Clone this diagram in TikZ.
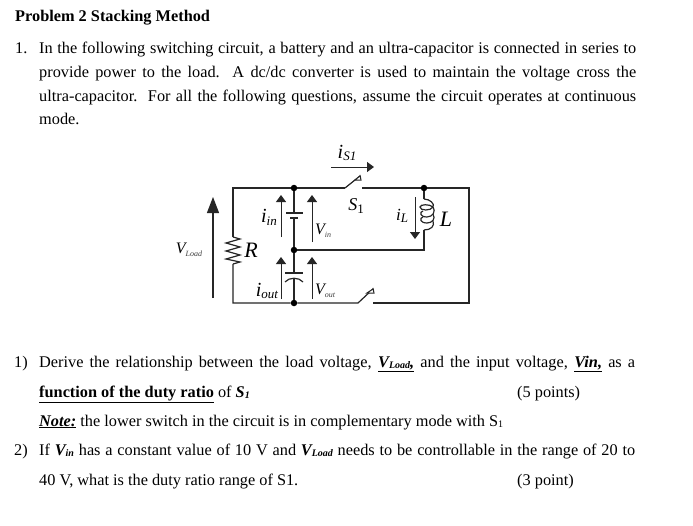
\documentclass[tikz,border=0pt]{standalone}
\usepackage{fontspec}
\setmainfont{Liberation Serif}
\usetikzlibrary{arrows.meta}
\newcommand{\lowsub}[1]{\raisebox{-0.25ex}{\fontsize{10}{10}\selectfont #1}}
\newcommand{\labsub}[1]{\raisebox{-0.3ex}{\fontsize{13}{13}\selectfont #1}}
\newcommand{\greysub}[1]{\raisebox{-0.4ex}{\fontsize{8}{8}\selectfont\color{black!75}#1}}
\newcommand{\jl}[2]{\makebox[#1pt][s]{#2}}
\tikzset{
  txt/.style={inner sep=0pt,anchor=base west,font=\fontsize{16.3}{19}\selectfont},
  lab/.style={inner sep=0pt,anchor=center,font=\fontsize{20}{20}\selectfont\itshape},
  vlab/.style={inner sep=0pt,anchor=center,font=\fontsize{16}{16}\selectfont\itshape},
  wire/.style={line width=1.2pt,black!85},
  thin arrow/.style={line width=1pt,black!85,-{Triangle[length=7pt,width=10pt]}},
  dot/.style={circle,fill=black,inner sep=0pt,minimum size=6.5pt},
}
\begin{document}
\begin{tikzpicture}[x=1pt,y=-1pt]
\useasboundingbox (0,0) rectangle (693,525);
\fill[white] (0,0) rectangle (693,525);
% Text
\node[txt] (title) at (15,21) {\textbf{Problem 2 Stacking Method}};
\node[txt] (n1) at (15,53) {1.};
\node[txt] (l1) at (39,53) {\jl{597}{In the following switching circuit, a battery and an ultra-capacitor is connected in series to}};
\node[txt] (l2) at (39,77) {\jl{597}{provide power to the load.\ \ A dc/dc converter is used to maintain the voltage cross the}};
\node[txt] (l3) at (39,101) {\jl{597}{ultra-capacitor.\ \ For all the following questions, assume the circuit operates at continuous}};
\node[txt] (l4) at (39,124) {mode.};
\node[txt] (q1) at (14,367) {1)};
\node[txt] (q1a) at (39,367) {\jl{596}{Derive the relationship between the load voltage, \underline{\textbf{\textit{V\lowsub{Load},}}} and the input voltage, \underline{\textbf{\textit{Vin,}}} as a}};
\node[txt] (q1b) at (39,397) {\underline{\textbf{function of the duty ratio}} of \textbf{\textit{S\lowsub{1}}}};
\node[txt] (p5) at (517,397) {(5 points)};
\node[txt] (q1c) at (39,426) {\underline{\textbf{\textit{Note:}}} the lower switch in the circuit is in complementary mode with S\lowsub{1}};
\node[txt] (q2) at (14,455) {2)};
\node[txt] (q2a) at (39,455) {\jl{596}{If \textbf{\textit{V\lowsub{in}}} has a constant value of 10 V and \textbf{\textit{V\lowsub{Load}}} needs to be controllable in the range of 20 to}};
\node[txt] (q2b) at (39,485) {40 V, what is the duty ratio range of S1.};
\node[txt] (p3) at (517,485) {(3 point)};
% Circuit points
\coordinate (tl) at (233,188);
\coordinate (tr) at (469,188);
\coordinate (bl) at (233,303);
\coordinate (br) at (469,303);
\node[dot] (jt) at (294,188) {};
\node[dot] (jm) at (294,250) {};
\node[dot] (jb) at (294,303) {};
\node[dot] (jl) at (424,188) {};
\coordinate (s1a) at (345,188);
\coordinate (s1b) at (360,176);
\coordinate (s1c) at (362,188);
\coordinate (s2a) at (358,303);
\coordinate (s2b) at (373,289);
\coordinate (s2c) at (373,303);
\coordinate (ra) at (233,237);
\coordinate (rb) at (233,264);
\coordinate (la) at (424,199);
\coordinate (lb) at (424,230);
\coordinate (lc) at (424,250);
\coordinate (b1) at (294,213);
\coordinate (b2) at (294,218);
\coordinate (c1) at (294,273);
\coordinate (c2) at (294,279);
% Wires
\draw[wire] (rb) -- (bl) -- (jb) -- (s2a) -- (s2b);
\draw[wire] (s2c) -- (br) -- (tr) -- (jl) -- (s1c);
\draw[wire] (s1a) -- (s1b);
\draw[wire] (ra) -- (tl) -- (jt) -- (s1a);
\draw[wire] (jt) -- (b1);
\draw[wire] (b2) -- (jm) -- (c1);
\draw[wire] (c2) -- (jb);
\draw[wire] (jl) -- (la);
\draw[wire] (lb) -- (lc) -- (jm);
% Switch tips
\draw[wire,line width=1pt,fill=white] (s1b) -- (360,175) -- (361,180) -- (355,180) -- cycle;
\draw[wire,line width=1pt,fill=white] (s2b) -- (373,288) -- (374,293) -- (367,293) -- cycle;
% Battery and capacitor
\draw[wire] (286,213) -- (303,213);
\draw[wire] (290,218) -- (298,218);
\draw[wire] (285,273) -- (303,273);
\draw[wire] (285,282) .. controls (289,277) and (299,277) .. (303,282);
% Resistor
\draw[wire] (ra) -- (240,239) -- (226,243) -- (240,247) -- (226,251) -- (240,255) -- (226,259) -- (240,262) -- (rb);
% Inductor
\draw[wire] (la) .. controls (430,199) and (435,204) .. (433,207)
  .. controls (431,211) and (420,211) .. (420,207) .. controls (420,204) and (430,204) .. (433,207);
\draw[wire] (433,207) .. controls (436,211) and (433,217) .. (427,217)
  .. controls (420,217) and (419,212) .. (423,211);
\draw[wire] (433,214) .. controls (436,219) and (432,223) .. (427,223)
  .. controls (420,223) and (419,218) .. (423,217);
\draw[wire] (433,221) .. controls (435,226) and (431,230) .. (lb);
% Measurement arrows
\coordinate (vla) at (213,298); \coordinate (vlb) at (213,197);
\draw[line width=1.1pt,black!85,-{Triangle[length=16pt,width=12pt]}] (vla) -- (vlb);
\coordinate (ia) at (281,237); \coordinate (ib) at (281,195);
\draw[thin arrow] (ia) -- (ib);
\coordinate (va) at (312,242); \coordinate (vb) at (312,195);
\draw[thin arrow] (va) -- (vb);
\coordinate (oa) at (281,299); \coordinate (ob) at (281,257);
\draw[thin arrow] (oa) -- (ob);
\coordinate (wa) at (312,299); \coordinate (wb) at (312,257);
\draw[thin arrow] (wa) -- (wb);
\coordinate (ila) at (415,197); \coordinate (ilb) at (415,239);
\draw[thin arrow] (ila) -- (ilb);
\coordinate (isa) at (331,167); \coordinate (isb) at (374,167);
\draw[thin arrow] (isa) -- (isb);
% Labels
\node[lab] (lis) at (347,153) {i\labsub{S1}};
\node[lab,font=\fontsize{18}{18}\selectfont\itshape] (ls1) at (356,206) {S\labsub{\upshape 1}};
\node[lab,font=\fontsize{17}{17}\selectfont\itshape] (lil) at (402,216) {i\labsub{L}};
\node[lab,font=\fontsize{22}{22}\selectfont\itshape] (ll) at (446,219) {L};
\node[lab,font=\fontsize{22}{22}\selectfont\itshape] (lr) at (251,250) {R};
\node[lab] (lin) at (269,217) {i\labsub{in}};
\node[lab] (lout) at (267,291) {i\labsub{out}};
\node[vlab] (lvin) at (323,231) {V\greysub{in}};
\node[vlab] (lvout) at (325,291) {V\greysub{out}};
\node[vlab] (lvl) at (189,250) {V\greysub{Load}};
\end{tikzpicture}
\end{document}
